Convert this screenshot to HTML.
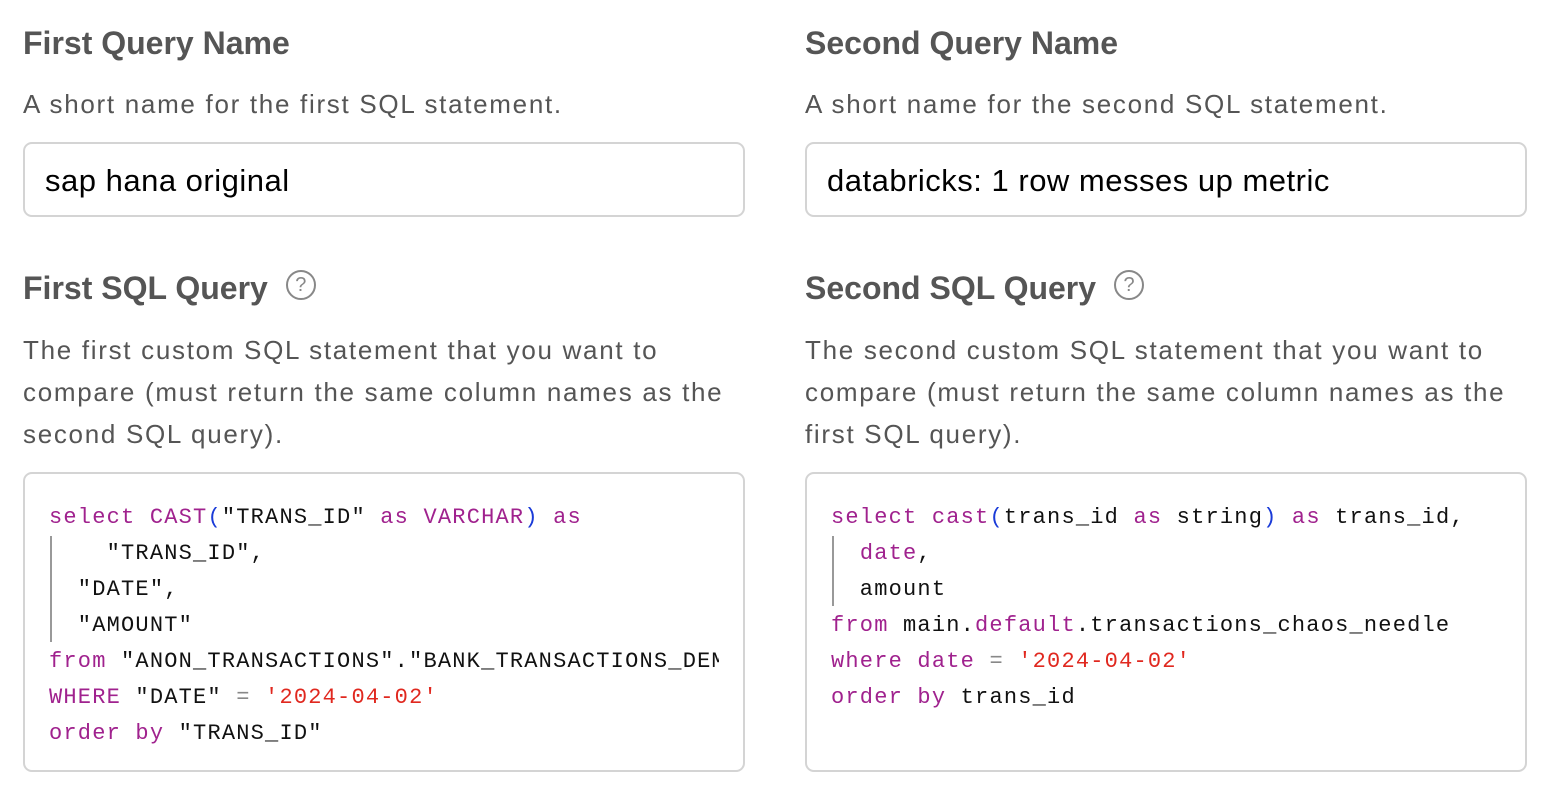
<!DOCTYPE html>
<html><head><style>
body{margin:0;width:1548px;height:792px;background:#fff;font-family:"Liberation Sans",sans-serif;position:relative;overflow:hidden}
.col{position:absolute;top:0;width:722px}
h2{position:absolute;margin:0;font-size:32px;font-weight:bold;color:#555;white-space:nowrap;left:0}
.d{position:absolute;left:0;font-size:26px;letter-spacing:1.7px;color:#555;line-height:42px;margin:0;white-space:nowrap}
.inp{position:absolute;left:0;top:142px;width:718px;height:71px;border:2px solid #d4d4d4;border-radius:9px;box-sizing:content-box}
.inp span{position:absolute;left:20px;top:19px;font-size:31px;letter-spacing:0.5px;color:#000;white-space:nowrap}
.q{display:inline-block;width:26px;height:26px;border:2px solid #888;border-radius:50%;font-size:20px;color:#888;text-align:center;line-height:26px;font-weight:normal;margin-left:18px;vertical-align:8px}
.code{position:absolute;left:0;top:472px;width:718px;height:296px;border:2px solid #d4d4d4;border-radius:9px;overflow:hidden}
.clip{position:absolute;left:0;top:0;width:694px;height:296px;overflow:hidden}
pre{position:absolute;left:24px;top:26px;margin:0;font-family:"Liberation Mono",monospace;font-size:22px;letter-spacing:1.2px;line-height:36px;color:#111;white-space:pre}
.k{color:#a0228e}.s{color:#e0281f}.p{color:#1a3bd8}.o{color:#888}
.bar{position:absolute;left:25px;width:2px;background:#999}
</style></head><body>
<div class="col" style="left:23px">
<h2 style="top:25px">First Query Name</h2>
<p class="d" style="top:83px">A short name for the first SQL statement.</p>
<div class="inp"><span>sap hana original</span></div>
<h2 style="top:270px">First SQL Query<span class="q">?</span></h2>
<p class="d" style="top:329px">The first custom SQL statement that you want to<br>compare (must return the same column names as the<br>second SQL query).</p>
<div class="code"><div class="bar" style="top:62px;height:106px"></div><div class="clip">
<pre><span class="k">select</span> <span class="k">CAST</span><span class="p">(</span>"TRANS_ID" <span class="k">as</span> <span class="k">VARCHAR</span><span class="p">)</span> <span class="k">as</span>
    "TRANS_ID",
  "DATE",
  "AMOUNT"
<span class="k">from</span> "ANON_TRANSACTIONS"."BANK_TRANSACTIONS_DEMO"
<span class="k">WHERE</span> "DATE" <span class="o">=</span> <span class="s">'2024-04-02'</span>
<span class="k">order</span> <span class="k">by</span> "TRANS_ID"</pre></div></div>
</div>
<div class="col" style="left:805px">
<h2 style="top:25px">Second Query Name</h2>
<p class="d" style="top:83px">A short name for the second SQL statement.</p>
<div class="inp"><span>databricks: 1 row messes up metric</span></div>
<h2 style="top:270px">Second SQL Query<span class="q">?</span></h2>
<p class="d" style="top:329px">The second custom SQL statement that you want to<br>compare (must return the same column names as the<br>first SQL query).</p>
<div class="code"><div class="bar" style="top:62px;height:70px"></div><div class="clip">
<pre><span class="k">select</span> <span class="k">cast</span><span class="p">(</span>trans_id <span class="k">as</span> string<span class="p">)</span> <span class="k">as</span> trans_id,
  <span class="k">date</span>,
  amount
<span class="k">from</span> main.<span class="k">default</span>.transactions_chaos_needle
<span class="k">where</span> <span class="k">date</span> <span class="o">=</span> <span class="s">'2024-04-02'</span>
<span class="k">order</span> <span class="k">by</span> trans_id</pre></div></div>
</div>
</body></html>
